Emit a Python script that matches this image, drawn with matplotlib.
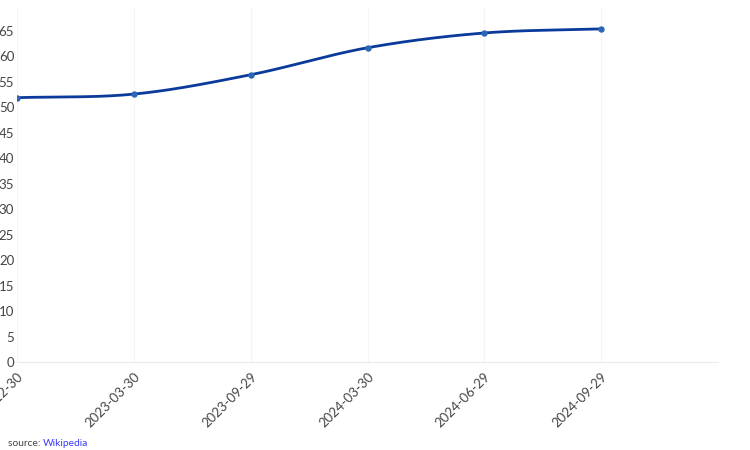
import numpy as np
import matplotlib
matplotlib.use("Agg")
import matplotlib.pyplot as plt

dates = ["2022-12-30", "2023-03-30", "2023-09-29", "2024-03-30", "2024-06-29", "2024-09-29"]
values = [51.9, 52.6, 56.4, 61.7, 64.6, 65.4]
yticks = list(range(0, 70, 5))

plt.rcParams['font.family'] = ['Lato', 'DejaVu Sans']

fig = plt.figure(figsize=(7.5, 4.5), dpi=100)
ax = fig.add_axes([17/750, 1-362/450, (718-17)/750, (362-7)/450])

x = np.arange(len(dates), dtype=float)
y = np.array(values, dtype=float)

# smooth curve through points (Catmull-Rom)
def catmull(xp, yp, n=30):
    px = np.concatenate([[2*xp[0]-xp[1]], xp, [2*xp[-1]-xp[-2]]])
    py = np.concatenate([[2*yp[0]-yp[1]], yp, [2*yp[-1]-yp[-2]]])
    xs, ys = [], []
    for i in range(1, len(px)-2):
        t = np.linspace(0, 1, n, endpoint=False)
        for arr, out in ((px, xs), (py, ys)):
            p0, p1, p2, p3 = arr[i-1], arr[i], arr[i+1], arr[i+2]
            out.extend(0.5*((2*p1) + (-p0+p2)*t + (2*p0-5*p1+4*p2-p3)*t**2 + (-p0+3*p1-3*p2+p3)*t**3))
    xs.append(xp[-1]); ys.append(yp[-1])
    return np.array(xs), np.array(ys)

sx, sy = catmull(x, y)
ax.plot(sx, sy, color="#0a3a9a", lw=2.0, zorder=3, solid_capstyle='round')
ax.plot(x, y, 'o', color="#2b66b8", ms=3.6, zorder=4)

ax.set_xlim(0, 6)
ax.set_ylim(0, 69.7)
ax.set_xticks(x)
ax.set_xticklabels(dates, rotation=45, ha='right', rotation_mode='anchor', fontsize=9.5, color='#444444')
ax.set_yticks(yticks)
ax.set_yticklabels([str(v) for v in yticks], fontsize=9.5, color='#444444')
ax.tick_params(axis='y', length=0, pad=2)
ax.tick_params(axis='x', length=0, pad=6)

ax.grid(axis='x', color='#f5f5f5', lw=0.8)
ax.grid(axis='y', visible=False)
for s in ['top', 'right', 'left']:
    ax.spines[s].set_visible(False)
ax.spines['bottom'].set_color('#ebebeb')
ax.spines['bottom'].set_linewidth(0.8)
ax.set_axisbelow(True)

t1 = fig.text(8/750, 1-443/450, "source: ", fontsize=7.4, color='#444444', va='center')
fig.canvas.draw()
bb = t1.get_window_extent()
fig.text(bb.x1/750, 1-443/450, "Wikipedia", fontsize=7.4, color='#3b3bff', va='center')

fig.savefig("out.png", dpi=100)
